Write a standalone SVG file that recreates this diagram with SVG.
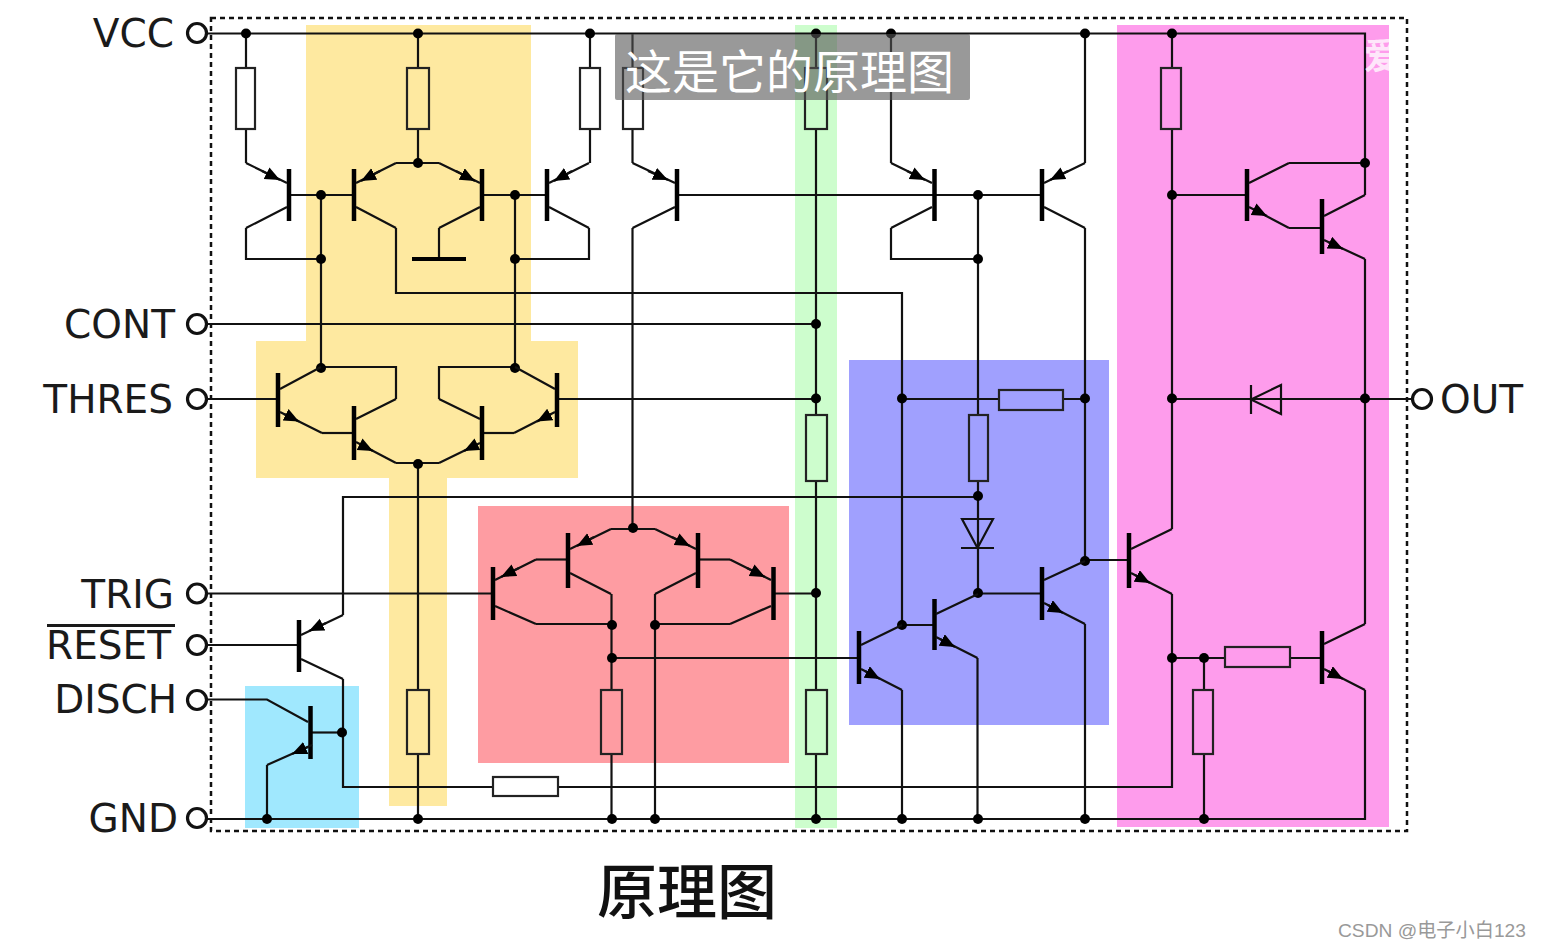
<svg xmlns="http://www.w3.org/2000/svg" width="1541" height="949" viewBox="0 0 1541 949">
<defs>
<marker id="a" markerUnits="userSpaceOnUse" markerWidth="18" markerHeight="14" refX="15" refY="6.500" orient="auto"><path d="M0 0L15 6.500L0 13Z" fill="#000"/></marker>
<circle id="d" r="5" fill="#000"/>
</defs>
<style>
.w{fill:none;stroke:#111;stroke-width:2.2;stroke-linejoin:miter}
.b{fill:none;stroke:#000;stroke-width:4.5}
.ar{fill:none;stroke:#111;stroke-width:2.2;marker-end:url(#a)}
.r{stroke:#222;stroke-width:2.2}
.t{fill:#fff;stroke:#111;stroke-width:3.2}
.l{font-family:"DejaVu Sans",sans-serif;font-size:39px;fill:#1a1a1a}
.e{text-anchor:end}
</style>
<rect width="1541" height="949" fill="#fff"/>
<g id="highlights">
<path d="M306 25H531V341H578V478H447V806H389V478H256V341H306Z" fill="#fee9a0"/>
<rect x="795" y="25" width="42" height="803" fill="#cdfdcd"/>
<rect x="1117" y="25" width="272" height="802" fill="#fe9cec"/>
<rect x="849" y="360" width="260" height="365" fill="#a0a0fe"/>
<rect x="478" y="506" width="311" height="257" fill="#fe9ca2"/>
<rect x="245" y="686" width="114" height="142" fill="#a0e8fe"/>
</g>
<rect id="frame" x="211" y="18" width="1196" height="813" fill="none" stroke="#111" stroke-width="2.5" stroke-dasharray="5 4"/>
<g id="connectors">
<path class="w" d="M207 33.500H1365V163"/>
<path class="w" d="M207 819H1365V690"/>
<path class="w" d="M207 324H816"/>
<path class="w" d="M207 399H278"/>
<path class="w" d="M557 399H816"/>
<path class="w" d="M207 593.500H493"/>
<path class="w" d="M773 593.500H816"/>
<path class="w" d="M207 645H299"/>
<path class="w" d="M207 699.500H267L308 722"/>
<path class="w" d="M246 33V68M246 129V163"/>
<path class="w" d="M418 33V68M418 129V163"/>
<path class="w" d="M590 33V68M590 129V163"/>
<path class="w" d="M632.500 33V68M632.500 129V163"/>
<path class="w" d="M816 33V819"/>
<path class="w" d="M891 33V163"/>
<path class="w" d="M1085 33V163"/>
<path class="w" d="M1172 33V529"/>
<path class="w" d="M289 195H354"/>
<path class="w" d="M482 195H547"/>
<path class="w" d="M677 195H1042"/>
<path class="w" d="M321 195V367"/>
<path class="w" d="M515 195V367"/>
<path class="w" d="M246 228V259H321"/>
<path class="w" d="M589 228V259H515"/>
<path class="w" d="M891 228V259H978"/>
<path class="w" d="M978 195V593"/>
<path class="w" d="M396 228V293H902V625"/>
<path class="w" d="M439 228V259"/>
<path class="w" d="M632.500 228V528"/>
<path class="w" d="M1085 228V561"/>
<path class="w" d="M1085 624V819"/>
<path class="w" d="M902 399H1085"/>
<path class="w" d="M343 615V497H978"/>
<path class="w" d="M343 679V787H1172V594"/>
<path class="w" d="M312 732.500H343"/>
<path class="w" d="M267 765V819"/>
<path class="w" d="M418 463V819"/>
<path class="w" d="M611.500 594V819"/>
<path class="w" d="M655 594V819"/>
<path class="w" d="M612 658H859"/>
<path class="w" d="M902 690V819"/>
<path class="w" d="M977.500 658V819"/>
<path class="w" d="M902 625H935"/>
<path class="w" d="M978 593.500H1042"/>
<path class="w" d="M1085 560H1129"/>
<path class="w" d="M1172 195H1247"/>
<path class="w" d="M1172 399H1412"/>
<path class="w" d="M1172 658H1322"/>
<path class="w" d="M1204 658V819"/>
<path class="w" d="M1365 259V624"/>
<path class="w" d="M1289 228H1322"/>
<path class="w" d="M1289 163H1365"/>
<path class="w" d="M1365 163V195"/>
<path class="w" d="M322 433H354"/>
<path class="w" d="M514 433H482"/>
<path class="w" d="M321 367H396V399"/>
<path class="w" d="M515 367H439V399"/>
<path class="w" d="M396 463H439"/>
<path class="w" d="M611 529H655"/>
<path class="w" d="M536 559.500H568"/>
<path class="w" d="M698 559.500H730"/>
<path class="w" d="M536 624H612"/>
<path class="w" d="M655 624H730"/>
<path class="w" d="M396 163H439"/>
</g>
<g id="junctions">
<use href="#d" x="246" y="33.500"/><use href="#d" x="418" y="33.500"/><use href="#d" x="590" y="33.500"/><use href="#d" x="816" y="33.500"/><use href="#d" x="891" y="33.500"/><use href="#d" x="1172" y="33.500"/><use href="#d" x="1085" y="33.500"/>
<use href="#d" x="418" y="163"/><use href="#d" x="321" y="195"/><use href="#d" x="515" y="195"/><use href="#d" x="978" y="195"/><use href="#d" x="1172" y="195"/><use href="#d" x="1365" y="163"/>
<use href="#d" x="321" y="259"/><use href="#d" x="515" y="259"/><use href="#d" x="978" y="259"/>
<use href="#d" x="816" y="324"/><use href="#d" x="321" y="368"/><use href="#d" x="515" y="368"/>
<use href="#d" x="816" y="398.500"/><use href="#d" x="902" y="398.500"/><use href="#d" x="1085" y="398.500"/><use href="#d" x="1172" y="398.500"/><use href="#d" x="1365" y="398.500"/>
<use href="#d" x="418" y="464"/><use href="#d" x="978" y="496"/><use href="#d" x="633" y="528"/><use href="#d" x="1085" y="561"/>
<use href="#d" x="816" y="593"/><use href="#d" x="978" y="593"/><use href="#d" x="612" y="625"/><use href="#d" x="655" y="625"/><use href="#d" x="902" y="625"/>
<use href="#d" x="612" y="658"/><use href="#d" x="1172" y="658"/><use href="#d" x="1204" y="658"/><use href="#d" x="342" y="732.500"/>
<use href="#d" x="267" y="819"/><use href="#d" x="418" y="819"/><use href="#d" x="612" y="819"/><use href="#d" x="655" y="819"/><use href="#d" x="816" y="819"/><use href="#d" x="902" y="819"/><use href="#d" x="978" y="819"/><use href="#d" x="1085" y="819"/><use href="#d" x="1204" y="819"/>
</g>
<g id="R1"><rect class="r" x="236" y="68" width="19" height="61" fill="#fff"/></g>
<g id="R2"><rect class="r" x="407" y="68" width="22" height="61" fill="#fee9a0"/></g>
<g id="R3"><rect class="r" x="580" y="68" width="20" height="61" fill="#fff"/></g>
<g id="R4"><rect class="r" x="623" y="68" width="20" height="61" fill="#fff"/></g>
<g id="R5"><rect class="r" x="805" y="68" width="22" height="61" fill="#cdfdcd"/></g>
<g id="R6"><rect class="r" x="1161" y="68" width="20" height="61" fill="#fe9cec"/></g>
<g id="R7"><rect class="r" x="806" y="415" width="21" height="66" fill="#cdfdcd"/></g>
<g id="R8"><rect class="r" x="806" y="690" width="21" height="64" fill="#cdfdcd"/></g>
<g id="R9"><rect class="r" x="407" y="690" width="22" height="64" fill="#fee9a0"/></g>
<g id="R10"><rect class="r" x="601" y="690" width="21" height="64" fill="#fe9ca2"/></g>
<g id="R11"><rect class="r" x="493" y="777" width="65" height="19" fill="#fff"/></g>
<g id="R12"><rect class="r" x="999" y="390" width="64" height="20" fill="#a0a0fe"/></g>
<g id="R13"><rect class="r" x="969" y="415" width="19" height="66" fill="#a0a0fe"/></g>
<g id="R14"><rect class="r" x="1225" y="647" width="65" height="20" fill="#fe9cec"/></g>
<g id="R15"><rect class="r" x="1193" y="690" width="20" height="64" fill="#fe9cec"/></g>
<g id="D1"><path class="w" d="M962 519H993L977.500 548Z"/><path class="w" d="M961 548H994"/></g>
<g id="D2"><path class="w" d="M1281 385V414L1251 399.500Z"/><path class="w" d="M1251 385V414"/></g>
<g id="ground-bar"><path d="M412 259H466" stroke="#000" stroke-width="4" fill="none"/></g>
<g id="Q1"><path class="b" d="M289 169V221"/><path class="w" d="M246 163L287 183M287 207L246 228"/><path class="ar" d="M262 171L280 180"/></g>
<g id="Q2"><path class="b" d="M354 169V221"/><path class="w" d="M396 163L356 183M356 207L396 228"/><path class="ar" d="M380 171L361 181"/></g>
<g id="Q3"><path class="b" d="M482 169V221"/><path class="w" d="M439 163L480 183M480 207L439 228"/><path class="ar" d="M456 171L475 181"/></g>
<g id="Q4"><path class="b" d="M547 169V221"/><path class="w" d="M589 163L549 183M549 207L589 228"/><path class="ar" d="M572 171L554 181"/></g>
<g id="Q5"><path class="b" d="M677 169V221"/><path class="w" d="M632.500 163L675 183M675 207L632.500 228"/><path class="ar" d="M648 171L668 180"/></g>
<g id="Q6"><path class="b" d="M934.500 169V221"/><path class="w" d="M891 163L932 183M932 207L891 228"/><path class="ar" d="M907 171L925 180"/></g>
<g id="Q7"><path class="b" d="M1042 169V221"/><path class="w" d="M1085 163L1044 183M1044 207L1085 228"/><path class="ar" d="M1068 171L1050 180"/></g>
<g id="Q8"><path class="b" d="M278 373V427"/><path class="w" d="M280 389L321 367M280 412L322 433"/><path class="ar" d="M284 414L299 421.500"/></g>
<g id="Q9"><path class="b" d="M354 406V460"/><path class="w" d="M356 419L396 399M356 442L396 463"/><path class="ar" d="M361 445L373 451"/></g>
<g id="Q10"><path class="b" d="M482 406V460"/><path class="w" d="M480 419L439 399M480 443L439 463"/><path class="ar" d="M476 445L464 451"/></g>
<g id="Q11"><path class="b" d="M557 373V427"/><path class="w" d="M555 389L515 367M555 412L514 433"/><path class="ar" d="M551 414L537 421.500"/></g>
<g id="Q12"><path class="b" d="M568 533V588"/><path class="w" d="M611 529L570 549M570 573L611 594"/><path class="ar" d="M594 537L577 546"/></g>
<g id="Q13"><path class="b" d="M493 567V620"/><path class="w" d="M536 559.500L495 580M495 606L536 624"/><path class="ar" d="M519 568L501 577"/></g>
<g id="Q14"><path class="b" d="M698 533V588"/><path class="w" d="M655 529L696 549M696 573L655 594"/><path class="ar" d="M672 537L690 546"/></g>
<g id="Q15"><path class="b" d="M773.500 567V620"/><path class="w" d="M730 559.500L771 580M771 606L730 624"/><path class="ar" d="M747 568L765 577"/></g>
<g id="Q16"><path class="b" d="M859 631V684"/><path class="w" d="M861 645L902 625M861 669L902 690"/><path class="ar" d="M865 671L880 679"/></g>
<g id="Q17"><path class="b" d="M934.500 599V650"/><path class="w" d="M936 614L978 594M936 637L977.500 658"/><path class="ar" d="M940 639L955 647"/></g>
<g id="Q18"><path class="b" d="M1042 567V620"/><path class="w" d="M1044 580L1085 561M1044 603L1085 624"/><path class="ar" d="M1048 605L1063 613"/></g>
<g id="Q19"><path class="b" d="M1129 533V588"/><path class="w" d="M1131 549L1172 529M1131 573L1172 594"/><path class="ar" d="M1135 575L1150 583"/></g>
<g id="Q20"><path class="b" d="M299 620V672"/><path class="w" d="M343 615L301 635M301 659L343 679"/><path class="ar" d="M326 623L309 631"/></g>
<g id="Q21"><path class="b" d="M310.500 706V759"/><path class="w" d="M312 745L267 765"/><path class="ar" d="M308 747L292 754"/></g>
<g id="Q22"><path class="b" d="M1247 169V221"/><path class="w" d="M1249 183L1289 163M1249 207L1289 228"/><path class="ar" d="M1253 209L1267 216"/></g>
<g id="Q23"><path class="b" d="M1322 199V254"/><path class="w" d="M1324 216L1365 195M1324 240L1365 259"/><path class="ar" d="M1328 242L1343 249"/></g>
<g id="Q24"><path class="b" d="M1322 631V684"/><path class="w" d="M1324 644L1365 624M1324 669L1365 690"/><path class="ar" d="M1328 671L1343 679"/></g>
<g id="VCC"><circle class="t" cx="197" cy="33" r="9.500"/><text class="l e" x="174" y="47">VCC</text></g>
<g id="CONT"><circle class="t" cx="197" cy="324" r="9.500"/><text class="l e" x="175" y="338">CONT</text></g>
<g id="THRES"><circle class="t" cx="197" cy="399" r="9.500"/><text class="l e" x="173" y="413">THRES</text></g>
<g id="TRIG"><circle class="t" cx="197" cy="593.500" r="9.500"/><text class="l e" x="174" y="608">TRIG</text></g>
<g id="RESET"><circle class="t" cx="197" cy="645" r="9.500"/><text class="l e" x="171" y="659">RESET</text><path d="M47 625.500H175" stroke="#1a1a1a" stroke-width="3"/></g>
<g id="DISCH"><circle class="t" cx="197" cy="700" r="9.500"/><text class="l e" x="177" y="713">DISCH</text></g>
<g id="GND"><circle class="t" cx="197" cy="818" r="9.500"/><text class="l e" x="178" y="832">GND</text></g>
<g id="OUT"><circle class="t" cx="1422" cy="399" r="9.500"/><text class="l" x="1440" y="413">OUT</text></g>
<text id="title" x="597" y="914" font-family="'Noto Sans CJK SC',sans-serif" font-size="60" font-weight="500" fill="#111">原理图</text>
<g id="caption"><rect x="615" y="34" width="355" height="66" rx="2" fill="#555" fill-opacity=".6"/><text x="625" y="89" font-family="'Noto Sans CJK SC',sans-serif" font-size="47" fill="#fff">这是它的原理图</text></g>
<text id="watermark" x="1364" y="69" font-family="'Noto Sans CJK SC',sans-serif" font-size="36" font-weight="700" fill="#fff" fill-opacity=".75">爱</text>
<text id="credit" x="1338" y="937" font-family="'Liberation Sans','Noto Sans CJK SC',sans-serif" font-size="19.200" fill="#999">CSDN @电子小白123</text>
</svg>
